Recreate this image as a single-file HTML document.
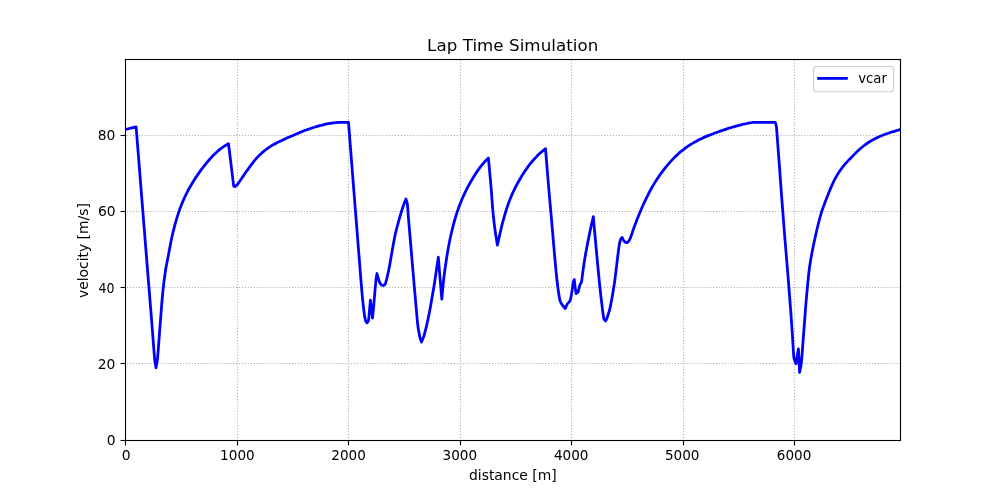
<!DOCTYPE html>
<html lang="en"><head><meta charset="utf-8"><title>Lap Time Simulation</title>
<style>html,body{margin:0;padding:0;background:#fff}svg{display:block}text{font-family:"DejaVu Sans","Liberation Sans",sans-serif;fill:#000}</style></head><body>
<svg width="1000" height="494" viewBox="0 0 1000 494">
<rect width="1000" height="494" fill="#fff"/>
<g stroke="#b0b0b0" stroke-width="1.1" stroke-dasharray="1.11,1.834" fill="none"><line x1="237.5" y1="440.5" x2="237.5" y2="59.5" stroke-dashoffset="0.6"/><line x1="348.5" y1="440.5" x2="348.5" y2="59.5" stroke-dashoffset="0.6"/><line x1="460.5" y1="440.5" x2="460.5" y2="59.5" stroke-dashoffset="0.6"/><line x1="571.5" y1="440.5" x2="571.5" y2="59.5" stroke-dashoffset="0.6"/><line x1="683.5" y1="440.5" x2="683.5" y2="59.5" stroke-dashoffset="0.6"/><line x1="794.5" y1="440.5" x2="794.5" y2="59.5" stroke-dashoffset="0.6"/><line x1="125.5" y1="363.5" x2="900.5" y2="363.5" stroke-dashoffset="1.3"/><line x1="125.5" y1="287.5" x2="900.5" y2="287.5" stroke-dashoffset="1.3"/><line x1="125.5" y1="211.5" x2="900.5" y2="211.5" stroke-dashoffset="1.3"/><line x1="125.5" y1="135.5" x2="900.5" y2="135.5" stroke-dashoffset="1.3"/></g>
<g stroke="#000" stroke-width="1.1" fill="none"><line x1="125.5" y1="440.5" x2="125.5" y2="445.5"/><line x1="237.5" y1="440.5" x2="237.5" y2="445.5"/><line x1="348.5" y1="440.5" x2="348.5" y2="445.5"/><line x1="460.5" y1="440.5" x2="460.5" y2="445.5"/><line x1="571.5" y1="440.5" x2="571.5" y2="445.5"/><line x1="683.5" y1="440.5" x2="683.5" y2="445.5"/><line x1="794.5" y1="440.5" x2="794.5" y2="445.5"/><line x1="125.5" y1="440.5" x2="120.5" y2="440.5"/><line x1="125.5" y1="363.5" x2="120.5" y2="363.5"/><line x1="125.5" y1="287.5" x2="120.5" y2="287.5"/><line x1="125.5" y1="211.5" x2="120.5" y2="211.5"/><line x1="125.5" y1="135.5" x2="120.5" y2="135.5"/></g>
<clipPath id="c"><rect x="125" y="59" width="775.5" height="381.5"/></clipPath>
<path clip-path="url(#c)" d="M125.50,129.50C129.03,128.60 132.57,127.70 136.10,126.80C137.77,147.67 139.44,168.53 141.10,189.40C143.00,213.22 145.75,247.93 147.50,269.70C148.85,286.47 150.42,305.13 151.60,320.00C152.63,332.96 153.87,350.93 154.60,358.90C154.88,361.89 155.53,364.83 156.00,367.80C156.50,364.83 157.22,361.90 157.50,358.90C158.25,350.93 159.60,331.32 160.50,320.00C161.27,310.33 162.05,299.33 162.90,291.00C163.62,283.98 164.67,276.03 165.60,270.00C166.39,264.90 167.53,259.87 168.50,254.80C169.53,249.38 170.75,242.42 171.80,237.50C172.67,233.40 173.79,229.00 174.78,225.27C175.69,221.86 176.77,218.21 177.77,215.10C178.68,212.24 179.76,209.22 180.75,206.60C181.68,204.17 182.74,201.63 183.74,199.38C184.68,197.25 185.73,195.06 186.72,193.07C187.67,191.18 188.71,189.25 189.71,187.48C190.66,185.77 191.69,184.05 192.69,182.43C193.66,180.86 194.68,179.28 195.67,177.76C196.65,176.28 197.66,174.79 198.66,173.36C199.63,171.95 200.65,170.54 201.64,169.19C202.62,167.87 203.63,166.54 204.63,165.27C205.60,164.03 206.62,162.79 207.61,161.61C208.58,160.45 209.60,159.29 210.59,158.20C211.57,157.14 212.58,156.07 213.58,155.07C214.55,154.09 215.57,153.11 216.56,152.20C217.54,151.31 218.55,150.43 219.55,149.62C220.52,148.82 221.54,148.03 222.53,147.32C223.50,146.62 224.52,145.93 225.52,145.31C226.49,144.70 227.51,144.17 228.50,143.60C230.23,157.80 231.97,172.00 233.70,186.20C234.10,186.37 234.50,186.53 234.90,186.70C235.73,185.97 236.68,185.35 237.40,184.50C238.31,183.42 239.39,181.65 240.39,180.22C241.38,178.79 242.38,177.33 243.37,175.89C244.36,174.45 245.36,173.00 246.36,171.58C247.34,170.18 248.35,168.75 249.34,167.39C250.32,166.05 251.33,164.69 252.33,163.41C253.30,162.16 254.32,160.88 255.31,159.71C256.28,158.58 257.30,157.44 258.30,156.40C259.26,155.39 260.29,154.39 261.28,153.47C262.25,152.57 263.27,151.70 264.27,150.89C265.24,150.10 266.26,149.32 267.25,148.61C268.23,147.91 269.24,147.23 270.24,146.59C271.22,145.97 272.23,145.36 273.22,144.79C274.21,144.23 275.21,143.69 276.21,143.17C277.20,142.65 278.20,142.16 279.19,141.67C280.18,141.19 281.18,140.73 282.18,140.26C283.17,139.80 284.17,139.35 285.16,138.90C286.16,138.44 287.15,137.99 288.15,137.55C289.14,137.10 290.14,136.66 291.14,136.22C292.13,135.78 293.13,135.34 294.12,134.91C295.11,134.48 296.11,134.06 297.11,133.64C298.10,133.22 299.10,132.81 300.09,132.40C301.08,132.00 302.08,131.60 303.08,131.21C304.07,130.82 305.07,130.44 306.06,130.07C307.05,129.70 308.05,129.33 309.05,128.98C310.04,128.63 311.04,128.28 312.03,127.95C313.02,127.62 314.02,127.30 315.02,126.99C316.01,126.68 317.01,126.38 318.00,126.10C318.99,125.82 319.99,125.54 320.99,125.29C321.98,125.03 322.98,124.79 323.97,124.56C324.97,124.33 325.96,124.12 326.96,123.92C327.95,123.73 328.95,123.55 329.94,123.38C330.94,123.22 331.93,123.07 332.93,122.95C333.92,122.82 334.92,122.71 335.91,122.62C336.91,122.53 338.05,122.44 338.90,122.40C339.60,122.37 340.30,122.40 341.00,122.40C342.60,122.40 346.00,122.40 348.50,122.40C350.00,141.60 351.49,160.80 353.00,180.00C354.83,203.27 358.02,243.33 359.50,262.00C360.29,272.00 361.22,284.25 361.90,292.00C362.39,297.51 363.12,304.30 363.60,308.50C363.93,311.41 364.43,315.07 364.80,317.20C365.04,318.59 365.43,320.35 365.80,321.30C366.04,321.92 366.60,322.37 367.00,322.90C367.50,322.10 368.33,321.43 368.50,320.50C368.93,318.20 369.28,312.48 369.60,309.10C369.88,306.13 370.13,303.17 370.40,300.20C371.10,306.13 371.80,312.07 372.50,318.00C372.90,314.00 373.34,310.00 373.70,306.00C374.12,301.42 374.58,295.17 375.00,290.50C375.37,286.33 375.87,280.83 376.20,278.00C376.38,276.49 376.73,275.00 377.00,273.50C377.30,274.70 377.55,275.91 377.90,277.10C378.33,278.58 379.05,281.12 379.60,282.40C379.98,283.28 380.67,284.00 381.20,284.80C381.87,285.08 382.53,285.37 383.20,285.65C383.87,285.23 384.53,284.82 385.20,284.40C385.73,282.53 386.33,280.68 386.80,278.80C387.33,276.65 387.90,273.88 388.40,271.50C388.89,269.17 389.37,266.84 389.80,264.50C390.48,260.75 391.60,253.98 392.50,249.00C393.37,244.19 394.17,239.27 395.20,234.60C396.21,230.03 397.60,225.02 398.70,221.00C399.66,217.48 400.82,213.62 401.80,210.50C402.67,207.75 403.92,204.22 404.60,202.30C405.00,201.19 405.47,200.10 405.90,199.00C406.37,200.57 407.08,202.08 407.30,203.70C407.72,206.75 408.02,212.77 408.40,217.30C409.22,227.02 410.91,247.10 412.20,262.00C413.72,279.58 416.25,310.40 417.50,322.80C417.96,327.37 419.03,333.18 419.70,336.40C420.10,338.35 420.90,340.20 421.50,342.10C422.27,340.20 423.19,338.36 423.80,336.40C424.62,333.78 425.61,329.75 426.40,326.40C427.30,322.58 428.35,317.82 429.20,313.50C430.10,308.93 430.96,303.84 431.80,299.00C432.72,293.70 433.80,287.48 434.70,281.70C435.78,274.73 437.10,265.37 438.30,257.20C439.47,271.20 440.63,285.20 441.80,299.20C442.50,291.97 443.06,284.61 443.90,277.50C444.73,270.49 445.88,262.76 446.87,256.52C447.74,251.01 448.84,244.97 449.83,240.07C450.71,235.71 451.81,231.00 452.80,227.07C453.69,223.51 454.78,219.72 455.77,216.47C456.68,213.49 457.74,210.32 458.73,207.58C459.65,205.03 460.71,202.38 461.70,200.02C462.63,197.80 463.68,195.52 464.67,193.43C465.62,191.43 466.64,189.39 467.63,187.48C468.59,185.64 469.61,183.75 470.60,182.00C471.56,180.30 472.58,178.57 473.57,176.96C474.52,175.41 475.54,173.82 476.53,172.36C477.49,170.94 478.51,169.50 479.50,168.18C480.46,166.89 481.48,165.59 482.47,164.40C483.42,163.24 484.44,162.08 485.43,161.01C486.39,159.98 487.41,159.00 488.40,158.00C489.37,168.67 490.60,181.67 491.30,190.00C491.80,195.99 492.22,203.33 492.60,208.00C492.87,211.34 493.23,214.67 493.60,218.00C494.03,221.88 494.58,226.88 495.20,231.30C495.83,235.82 496.67,240.50 497.40,245.10C498.07,242.10 498.71,239.09 499.40,236.10C500.25,232.45 501.45,227.15 502.47,223.18C503.42,219.51 504.52,215.61 505.55,212.25C506.49,209.16 507.60,205.88 508.62,203.04C509.57,200.42 510.67,197.66 511.69,195.25C512.65,192.99 513.74,190.66 514.77,188.57C515.74,186.60 516.82,184.59 517.84,182.73C518.83,180.95 519.89,179.13 520.91,177.44C521.91,175.79 522.96,174.12 523.99,172.56C524.98,171.04 526.04,169.51 527.06,168.08C528.05,166.69 529.11,165.28 530.13,163.97C531.13,162.70 532.18,161.43 533.21,160.24C534.20,159.09 535.26,157.93 536.28,156.86C537.28,155.82 538.33,154.78 539.35,153.82C540.35,152.88 541.40,151.96 542.43,151.10C543.43,150.27 544.48,149.50 545.50,148.70C546.63,162.47 547.88,178.07 548.90,190.00C549.76,200.10 550.72,210.20 551.60,220.30C552.50,230.63 553.40,241.97 554.30,252.00C555.15,261.50 556.07,272.45 557.00,280.50C557.77,287.13 559.07,296.28 559.90,300.30C560.22,301.86 561.12,303.27 562.00,304.60C562.90,305.97 564.20,307.20 565.30,308.50C565.87,307.20 566.27,305.82 567.00,304.60C567.82,303.23 569.56,301.97 570.20,300.30C571.02,298.17 571.42,294.65 571.90,291.80C572.42,288.73 572.90,283.93 573.30,281.90C573.46,281.08 573.97,280.37 574.30,279.60C574.60,282.27 574.88,285.25 575.20,287.60C575.48,289.64 575.87,291.67 576.20,293.70C576.90,293.07 577.60,292.43 578.30,291.80C578.77,289.70 579.17,287.15 579.70,285.50C580.11,284.22 581.22,283.21 581.50,281.90C582.08,279.18 582.59,273.43 583.20,269.20C583.85,264.72 584.55,259.71 585.40,255.00C586.50,248.87 588.48,238.78 589.80,232.40C590.88,227.15 592.13,221.93 593.30,216.70C594.37,228.47 595.47,240.90 596.50,252.00C597.47,262.44 598.52,273.83 599.50,283.30C600.38,291.81 601.68,302.90 602.40,308.80C602.80,312.11 603.33,315.40 603.80,318.70C604.40,319.47 605.00,320.23 605.60,321.00C606.17,319.77 606.87,318.59 607.30,317.30C608.07,315.03 609.50,310.77 610.20,307.40C611.38,301.73 613.21,291.37 614.40,283.30C615.68,274.57 617.08,261.43 617.90,255.00C618.34,251.56 618.87,247.23 619.30,244.70C619.58,243.04 620.03,241.02 620.50,239.80C620.84,238.90 621.57,238.20 622.10,237.40C622.63,238.47 623.15,239.77 623.70,240.60C624.15,241.29 624.83,241.80 625.40,242.40C625.93,242.48 626.47,242.57 627.00,242.65C627.53,242.23 628.22,241.96 628.60,241.40C629.20,240.53 630.05,238.79 630.60,237.40C631.43,235.31 632.59,231.60 633.59,228.83C634.56,226.14 635.58,223.38 636.58,220.79C637.54,218.27 638.57,215.69 639.56,213.27C640.53,210.92 641.56,208.52 642.55,206.27C643.52,204.09 644.54,201.86 645.54,199.78C646.50,197.76 647.53,195.69 648.53,193.77C649.49,191.91 650.52,190.01 651.51,188.24C652.48,186.52 653.51,184.78 654.50,183.15C655.47,181.57 656.49,179.96 657.49,178.46C658.46,177.00 659.48,175.53 660.48,174.14C661.45,172.79 662.47,171.42 663.47,170.13C664.44,168.87 665.46,167.61 666.45,166.40C667.43,165.22 668.45,164.03 669.44,162.91C670.42,161.80 671.43,160.69 672.43,159.64C673.41,158.61 674.42,157.57 675.42,156.60C676.39,155.64 677.41,154.68 678.40,153.78C679.38,152.90 680.40,152.02 681.39,151.19C682.37,150.38 683.38,149.58 684.38,148.82C685.36,148.07 686.37,147.34 687.37,146.65C688.35,145.96 689.36,145.29 690.36,144.65C691.34,144.03 692.35,143.41 693.34,142.83C694.33,142.25 695.34,141.69 696.33,141.16C697.32,140.63 698.32,140.11 699.32,139.62C700.31,139.13 701.31,138.65 702.31,138.19C703.30,137.74 704.30,137.29 705.30,136.86C706.29,136.44 707.29,136.02 708.28,135.62C709.28,135.22 710.27,134.83 711.27,134.44C712.26,134.06 713.26,133.69 714.26,133.31C715.25,132.94 716.25,132.58 717.25,132.22C718.24,131.86 719.24,131.50 720.23,131.15C721.23,130.80 722.23,130.46 723.22,130.12C724.22,129.78 725.21,129.45 726.21,129.13C727.20,128.80 728.20,128.48 729.20,128.17C730.19,127.86 731.19,127.56 732.19,127.26C733.18,126.97 734.18,126.68 735.17,126.40C736.17,126.12 737.17,125.85 738.16,125.59C739.15,125.33 740.15,125.07 741.15,124.83C742.14,124.58 743.14,124.35 744.14,124.13C745.13,123.90 746.13,123.69 747.12,123.49C748.12,123.28 749.12,123.09 750.11,122.91C751.11,122.73 752.29,122.48 753.10,122.40C753.73,122.33 754.37,122.40 755.00,122.40C758.70,122.40 768.53,122.40 775.30,122.40C775.70,124.07 776.35,125.69 776.50,127.40C777.50,139.00 779.95,174.10 781.30,192.00C782.38,206.27 783.48,220.80 784.60,234.80C785.70,248.54 786.93,262.68 788.00,276.00C789.03,288.90 790.27,304.87 791.00,314.70C791.50,321.46 791.94,328.23 792.40,335.00C792.88,342.13 793.30,352.72 793.90,357.50C794.17,359.67 795.30,361.63 796.00,363.70C796.80,358.77 797.60,353.83 798.40,348.90C798.80,356.77 799.20,364.63 799.60,372.50C800.20,369.10 801.03,365.73 801.40,362.30C802.00,356.78 802.65,346.45 803.20,339.40C803.70,332.93 804.20,326.47 804.70,320.00C805.20,313.52 805.62,306.99 806.20,300.50C806.96,292.08 808.22,277.69 809.24,269.47C809.99,263.34 811.26,256.66 812.27,251.20C813.17,246.34 814.29,241.27 815.31,236.69C816.26,232.36 817.33,227.75 818.34,223.73C819.28,220.01 820.37,215.90 821.38,212.61C822.27,209.69 823.40,206.72 824.41,203.98C825.38,201.36 826.44,198.73 827.45,196.18C828.44,193.67 829.47,191.04 830.48,188.66C831.45,186.37 832.51,183.96 833.52,181.87C834.46,179.91 835.54,177.88 836.55,176.11C837.50,174.45 838.58,172.75 839.59,171.25C840.55,169.83 841.61,168.40 842.63,167.10C843.60,165.86 844.65,164.63 845.66,163.46C846.65,162.33 847.68,161.23 848.70,160.14C849.70,159.07 850.72,158.00 851.73,156.95C852.74,155.91 853.76,154.87 854.77,153.87C855.77,152.88 856.79,151.88 857.80,150.94C858.80,150.01 859.83,149.08 860.84,148.21C861.83,147.35 862.86,146.51 863.87,145.72C864.87,144.95 865.90,144.20 866.91,143.49C867.90,142.80 868.93,142.13 869.95,141.50C870.94,140.89 871.97,140.29 872.98,139.73C873.98,139.17 875.00,138.64 876.02,138.14C877.02,137.64 878.04,137.17 879.05,136.72C880.05,136.27 881.08,135.85 882.09,135.44C883.09,135.04 884.11,134.66 885.12,134.29C886.13,133.92 887.15,133.57 888.16,133.23C889.17,132.89 890.18,132.56 891.19,132.24C892.20,131.92 893.22,131.62 894.23,131.31C895.24,131.00 896.25,130.70 897.26,130.40C898.28,130.10 899.29,129.80 900.30,129.50" fill="none" stroke="#0000ff" stroke-width="2.78" stroke-linejoin="round" stroke-linecap="square"/>
<rect x="125.5" y="59.5" width="775.0" height="381.0" fill="none" stroke="#000" stroke-width="1.1"/>
<text x="126.2" y="460" font-size="13.89" text-anchor="middle">0</text>
<text x="237.4" y="460" font-size="13.89" text-anchor="middle" textLength="34.6" lengthAdjust="spacingAndGlyphs">1000</text>
<text x="348.6" y="460" font-size="13.89" text-anchor="middle" textLength="34.6" lengthAdjust="spacingAndGlyphs">2000</text>
<text x="459.8" y="460" font-size="13.89" text-anchor="middle" textLength="34.6" lengthAdjust="spacingAndGlyphs">3000</text>
<text x="571.2" y="460" font-size="13.89" text-anchor="middle" textLength="34.6" lengthAdjust="spacingAndGlyphs">4000</text>
<text x="682.2" y="460" font-size="13.89" text-anchor="middle" textLength="34.6" lengthAdjust="spacingAndGlyphs">5000</text>
<text x="794.1" y="460" font-size="13.89" text-anchor="middle" textLength="34.6" lengthAdjust="spacingAndGlyphs">6000</text>
<text x="115.6" y="444.9" font-size="13.89" text-anchor="end">0</text>
<text x="115.4" y="368.8" font-size="13.89" text-anchor="end">20</text>
<text x="114.5" y="292.8" font-size="13.89" text-anchor="end" textLength="16.0" lengthAdjust="spacingAndGlyphs">40</text>
<text x="115.6" y="215.9" font-size="13.89" text-anchor="end">60</text>
<text x="115.4" y="139.9" font-size="13.89" text-anchor="end">80</text>
<text x="512.8" y="480.3" font-size="13.89" text-anchor="middle">distance [m]</text>
<text transform="translate(87.6,250.6) rotate(-90)" font-size="13.89" text-anchor="middle">velocity [m/s]</text>
<text x="512.7" y="51" font-size="16.67" text-anchor="middle" textLength="171.3" lengthAdjust="spacing">Lap Time Simulation</text>
<rect x="813.5" y="66.5" width="80" height="25.3" rx="2.8" ry="2.8" fill="#fff" fill-opacity="0.8" stroke="#cccccc" stroke-width="1.1"/>
<line x1="818.6" y1="78.4" x2="846.4" y2="78.4" stroke="#0000ff" stroke-width="2.78" stroke-linecap="square"/>
<text x="858.2" y="83.3" font-size="13.89" textLength="28.7" lengthAdjust="spacingAndGlyphs">vcar</text>
</svg></body></html>
